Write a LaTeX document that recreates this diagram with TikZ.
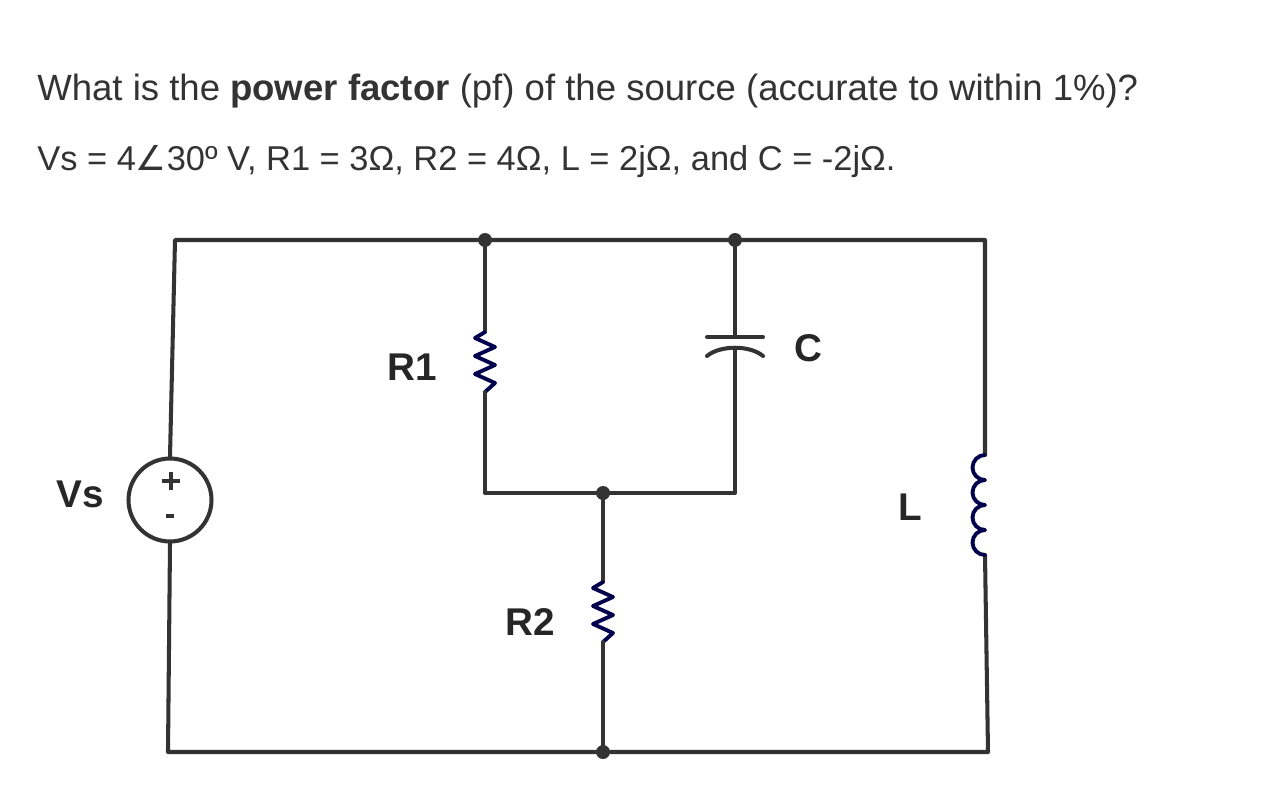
\documentclass[tikz,border=0pt]{standalone}
\usepackage{fontspec}
\setmainfont{Liberation Sans}
\newfontfamily\djv{DejaVu Sans}
\begin{document}
\begin{tikzpicture}[x=0.02cm,y=-0.02cm,
  wire/.style={line width=2.3pt,color=black!80,line cap=round,line join=round},
  comp/.style={line width=2.2pt,color=blue!30!black,line join=round,line cap=round},
  dot/.style={circle,fill=black!80,inner sep=0pt,minimum size=0.28cm},
  lbl/.style={font=\fontsize{22}{24}\selectfont\bfseries,text=black!85},
  txt/.style={anchor=west,text=black!80,inner sep=0pt}]
\useasboundingbox (0,0) rectangle (1280,784);
\fill[white] (0,0) rectangle (1280,784);
\node[txt,font=\fontsize{20.8}{24}\selectfont] (t1) at (37,91) {What is the \textbf{power factor} (pf) of the source (accurate to within 1\%)?};
\node[txt,font=\fontsize{19.6}{24}\selectfont] (t2) at (37,162) {Vs = 4{\djv∠}30º V, R1 = 3Ω, R2 = 4Ω, L = 2jΩ, and C = -2jΩ.};
% nodes
\node[dot] (n1) at (485,240) {};
\node[dot] (n2) at (735,240) {};
\node[dot] (n3) at (603,493) {};
\node[dot] (n4) at (603,752) {};
\coordinate (tl) at (175,240);
\coordinate (tr) at (985,240);
\coordinate (bl) at (168,752);
\coordinate (br) at (988,752);
\node[circle,draw=black!80,line width=2.3pt,minimum size=1.66cm] (vs) at (170,500) {};
\draw[line width=2pt,black!80] (162,481) -- (180,481) (171,472) -- (171,490);
\draw[line width=2.5pt,black!80] (166,516) -- (174,516);
\coordinate (vp) at (171,481);
% wires
\draw[wire] (vs.north) -- (tl) -- (n1) -- (n2) -- (tr) -- (985,455);
\draw[wire] (985,555) -- (br) -- (n4) -- (bl) -- (vs.south);
% R1
\draw[wire] (n1) -- (485,332);
\draw[comp] (485,332) -- (475,338) -- (495,347) -- (475,356) -- (495,365) -- (475,374) -- (495,383) -- (485,392);
\draw[wire] (485,392) -- (485,493) -- (n3) -- (735,493) -- (735,350);
% C
\draw[wire] (n2) -- (735,337);
\draw[wire] (707,337) -- (763,337);
\draw[wire] (707,356) .. controls (720,345) and (750,345) .. (763,356);
% R2
\draw[wire] (n3) -- (603,582);
\draw[comp] (603,582) -- (593,588) -- (613,597) -- (593,606) -- (613,615) -- (593,624) -- (613,633) -- (603,642);
\draw[wire] (603,642) -- (n4);
% L
\draw[comp] (985,455) arc (-90:-270:12.5) arc (-90:-270:12.5) arc (-90:-270:12.5) arc (-90:-270:12.5);
% labels
\node[lbl] (lr1) at (412,367) {R1};
\node[lbl] (lc) at (808,348) {C};
\node[lbl] (lvs) at (80,494) {Vs};
\node[lbl] (ll) at (910,507) {L};
\node[lbl] (lr2) at (530,622) {R2};
\end{tikzpicture}
\end{document}
